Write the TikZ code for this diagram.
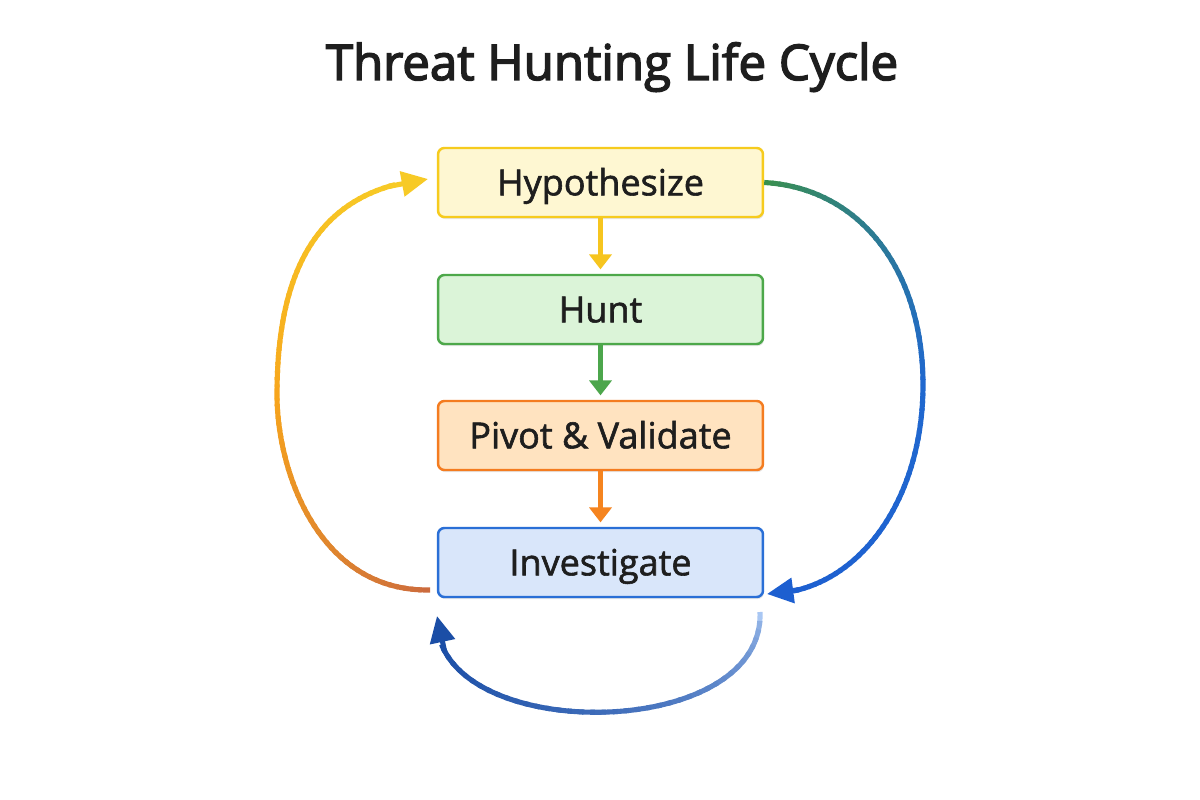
\documentclass[tikz,border=0pt]{standalone}
\usepackage{fontspec}
\setmainfont{Open Sans}
\newfontfamily\titlefont{Open Sans}[FakeBold=3]
\newfontfamily\nodefont{Open Sans}[FakeBold=1.6]
\usetikzlibrary{arrows.meta,shadows,calc}
\definecolor{hypfill}{HTML}{FEF7D2}
\definecolor{hypdraw}{HTML}{F6CB1E}
\definecolor{huntfill}{HTML}{DBF4D8}
\definecolor{huntdraw}{HTML}{4DA84A}
\definecolor{pivfill}{HTML}{FFE3C0}
\definecolor{pivdraw}{HTML}{F47C20}
\definecolor{invfill}{HTML}{D9E6FA}
\definecolor{invdraw}{HTML}{2A6FD6}
\definecolor{yarr}{HTML}{F6C51F}
\definecolor{garr}{HTML}{4CA64C}
\definecolor{oarr}{HTML}{F5841F}
\definecolor{lA}{HTML}{CC6B3D}
\definecolor{lB}{HTML}{F7A51C}
\definecolor{lC}{HTML}{F7CA26}
\definecolor{rA}{HTML}{3A904E}
\definecolor{rB}{HTML}{2068CF}
\definecolor{rC}{HTML}{1D5FD0}
\definecolor{bA}{HTML}{A9C7F3}
\definecolor{bB}{HTML}{1B4EA6}
\definecolor{titlec}{HTML}{1E1E1E}
\newlength\arcw
\setlength\arcw{2.9pt}
% #1-#4 curve points, #5 start colour, #6 end colour, #7 end time, #8 colour exponent
\newcommand\gradseg[8]{%
  \foreach \i in {0,...,39}{%
    \pgfmathsetmacro\ta{\i/40*#7}%
    \pgfmathsetmacro\tb{min((\i+1.4)/40*#7,#7)}%
    \pgfmathtruncatemacro\pc{100*(\i/39)^#8}%
    \colorlet{gsegc}{#6!\pc!#5}%
    \begin{pgfscope}
      \pgfsetlinewidth{\arcw}%
      \pgfsetbuttcap
      \pgfsetstrokecolor{gsegc}%
      \pgfpathcurvebetweentime{\ta}{\tb}{\pgfpointanchor{#1}{center}}{\pgfpointanchor{#2}{center}}{\pgfpointanchor{#3}{center}}{\pgfpointanchor{#4}{center}}%
      \pgfusepath{stroke}%
    \end{pgfscope}
  }%
}
\tikzset{
  stagebox/.style={draw, line width=1.4pt, rounded corners=3.6pt,
    minimum width=6.5cm, minimum height=1.38cm, inner sep=0pt,
    text height=14.6pt, text depth=0pt,
    font=\nodefont\fontsize{20.5}{24}\selectfont, text=titlec,
    drop shadow={shadow xshift=0.5pt, shadow yshift=-1.2pt, opacity=0.10, fill=black}},
  downarrow/.style={line width=2.9pt, -{Triangle[length=8.5pt, width=12.5pt]}, shorten >=2.5pt},
  bigtip/.style={line width=\arcw, -{Triangle[length=15pt, width=14pt]}},
}
\begin{document}
\begin{tikzpicture}[x=0.02cm, y=-0.02cm]
\useasboundingbox[fill=white] (0,0) rectangle (1200,800);
\node[font=\titlefont\fontsize{28}{34}\selectfont, text=titlec, anchor=base] (title) at (612,80) {Threat Hunting Life Cycle};

\node[stagebox, fill=hypfill, draw=hypdraw] (hyp) at (600.5,182.5) {Hypothesize};
\node[stagebox, fill=huntfill, draw=huntdraw] (hunt) at (600.5,309.5) {Hunt};
\node[stagebox, fill=pivfill, draw=pivdraw] (piv) at (600.5,435.5) {Pivot \& Validate};
\node[stagebox, fill=invfill, draw=invdraw] (inv) at (600.5,562.5) {Investigate};

\draw[downarrow, yarr] (hyp.south) -- (hunt.north);
\draw[downarrow, garr] (hunt.south) -- (piv.north);
\draw[downarrow, oarr] (piv.south) -- (inv.north);

% left arc: Investigate -> Hypothesize
\coordinate (L0) at (430,590);
\coordinate (L1) at (318,592);
\coordinate (L2) at (277,470);
\coordinate (L3) at (277,395);
\coordinate (L4) at (277,282);
\coordinate (L5) at (310,190);
\coordinate (L6) at (428,179);
\gradseg{L0}{L1}{L2}{L3}{lA}{lB}{1}{0.8}
\gradseg{L3}{L4}{L5}{L6}{lB}{lC}{0.9}{0.7}
\path (L3) .. controls (L4) and (L5) .. (L6) coordinate[pos=0.88] (Lx);
\draw[bigtip, lC] (Lx) -- (L6);

% right arc: Hypothesize -> Investigate
\coordinate (R0) at (hyp.east);
\coordinate (R1) at (860,188);
\coordinate (R2) at (923,270);
\coordinate (R3) at (923,385);
\coordinate (R4) at (923,500);
\coordinate (R5) at (858,593);
\coordinate (R6) at (767,594);
\gradseg{R0}{R1}{R2}{R3}{rA}{rB}{1}{0.8}
\gradseg{R3}{R4}{R5}{R6}{rB}{rC}{0.9}{1}
\path (R3) .. controls (R4) and (R5) .. (R6) coordinate[pos=0.88] (Rx);
\draw[bigtip, rC] (Rx) -- (R6);

% bottom loop: Investigate -> Investigate
\coordinate (B0) at (760,612);
\coordinate (B1) at (765,745);
\coordinate (B2) at (430,745);
\coordinate (B3) at (437,616);
\gradseg{B0}{B1}{B2}{B3}{bA}{bB}{0.92}{0.45}
\path (B0) .. controls (B1) and (B2) .. (B3) coordinate[pos=0.9] (Bx);
\draw[bigtip, bB] (Bx) -- (B3);
\end{tikzpicture}
\end{document}
